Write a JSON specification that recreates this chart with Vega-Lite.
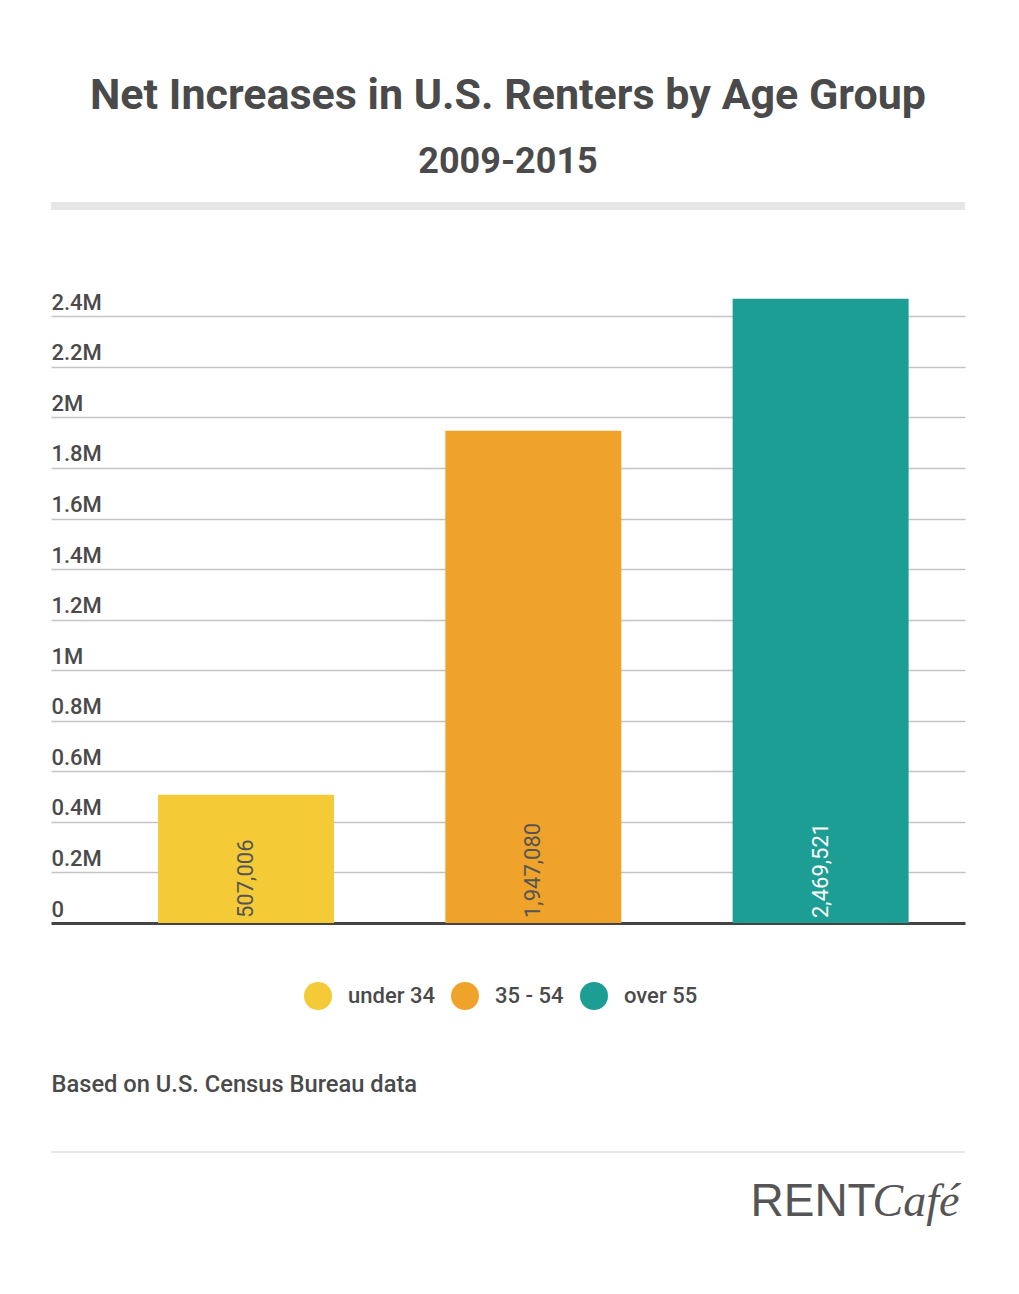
{
  "$schema": "https://vega.github.io/schema/vega-lite/v6.json",
  "width": 914,
  "height": 632,
  "autosize": {"type": "none"},
  "padding": {"left": 51, "top": 291, "right": 54, "bottom": 371},
  "background": "white",
  "title": {
    "text": "Net Increases in U.S. Renters by Age Group",
    "subtitle": "2009-2015",
    "anchor": "middle",
    "font": "Roboto",
    "fontSize": 43,
    "fontWeight": "bold",
    "color": "#4a4a4a",
    "subtitleFont": "Roboto",
    "subtitleFontSize": 36,
    "subtitleFontWeight": "bold",
    "subtitleColor": "#4a4a4a",
    "subtitlePadding": 27,
    "offset": 22
  },
  "data": {
    "values": [
      {"group": "under 34", "value": 507006},
      {"group": "35 - 54", "value": 1947080},
      {"group": "over 55", "value": 2469521}
    ]
  },
  "layer": [
    {
      "layer": [
        {
          "mark": {"type": "bar"},
          "encoding": {
            "x": {
              "field": "group",
              "type": "nominal",
              "sort": ["under 34", "35 - 54", "over 55"],
              "scale": {"paddingInner": 0.3874, "paddingOuter": 0.2844, "align": 0.655},
              "axis": {
                "title": "Based on U.S. Census Bureau data",
                "labels": false,
                "ticks": false,
                "domain": false,
                "titleX": 0,
                "titleY": 168,
                "titleAlign": "left",
                "titleBaseline": "alphabetic",
                "titleFont": "Roboto",
                "titleFontSize": 23.7,
                "titleFontWeight": 500,
                "titleColor": "#4a4a4a"
              }
            },
            "y": {
              "field": "value",
              "type": "quantitative",
              "scale": {"domain": [0, 2500000], "nice": false},
              "axis": {
                "values": [0, 200000, 400000, 600000, 800000, 1000000, 1200000, 1400000, 1600000, 1800000, 2000000, 2200000, 2400000],
                "labelExpr": "datum.value === 0 ? '0' : format(datum.value / 1000000, '~g') + 'M'",
                "title": "RENT",
                "titleAngle": 0,
                "titleX": 699,
                "titleY": 924,
                "titleAlign": "left",
                "titleBaseline": "alphabetic",
                "titleFont": "Liberation Sans",
                "titleFontSize": 46,
                "titleFontWeight": "normal",
                "titleColor": "#555555",
                "labelAlign": "left",
                "labelPadding": 0,
                "ticks": false,
                "tickSize": 0,
                "domain": false,
                "labelBaseline": "alphabetic",
                "labelOffset": -7,
                "labelFont": "Roboto",
                "labelFontSize": 22,
                "labelFontWeight": 500,
                "labelColor": "#4a4a4a",
                "grid": true,
                "gridColor": {"condition": {"test": "datum.value === 0", "value": "#444444"}, "value": "#c4c4c4"},
                "gridWidth": {"condition": {"test": "datum.value === 0", "value": 3}, "value": 1.5}
              }
            },
            "color": {
              "field": "group",
              "type": "nominal",
              "scale": {"domain": ["under 34", "35 - 54", "over 55"], "range": ["#F4CB36", "#F0A32A", "#1D9E94"]},
              "legend": {
                "orient": "none",
                "legendX": 253,
                "legendY": 691,
                "direction": "horizontal",
                "title": null,
                "symbolType": "circle",
                "symbolSize": 784,
                "symbolStrokeWidth": 0,
                "labelFont": "Roboto",
                "labelFontSize": 22,
                "labelFontWeight": 500,
                "labelColor": "#4a4a4a",
                "labelOffset": 16,
                "columnPadding": 16,
                "padding": 0
              }
            }
          }
        },
        {
          "mark": {"type": "text", "angle": 270, "align": "left", "baseline": "middle", "dx": 5, "font": "Roboto", "fontSize": 22},
          "encoding": {
            "x": {"field": "group", "type": "nominal", "sort": ["under 34", "35 - 54", "over 55"]},
            "y": {"datum": 0},
            "text": {"field": "value", "type": "quantitative", "format": ",d"},
            "color": {"condition": {"test": "datum.group === 'over 55'", "value": "#ffffff"}, "value": "#555555"}
          }
        }
      ]
    },
    {
      "data": {"values": [{"item": "decor"}]},
      "layer": [
        {
          "mark": {"type": "rule", "color": "#e6e6e6", "strokeWidth": 8},
          "encoding": {
            "y": {
              "datum": 2836000,
              "type": "quantitative",
              "scale": {"domain": [0, 2500000], "nice": false},
              "axis": {
                "orient": "right",
                "title": "Café",
                "labels": false,
                "ticks": false,
                "domain": false,
                "grid": false,
                "titleAngle": 0,
                "titleX": -93,
                "titleY": 924,
                "titleAlign": "left",
                "titleBaseline": "alphabetic",
                "titleFont": "Liberation Serif",
                "titleFontSize": 46,
                "titleFontStyle": "italic",
                "titleFontWeight": "normal",
                "titleColor": "#555555"
              }
            }
          }
        },
        {
          "mark": {"type": "rule", "color": "#e0e0e0", "strokeWidth": 1.5},
          "encoding": {"y": {"datum": -906000, "type": "quantitative"}}
        }
      ]
    }
  ],
  "resolve": {"scale": {"y": "independent"}},
  "config": {"view": {"stroke": null}}
}
